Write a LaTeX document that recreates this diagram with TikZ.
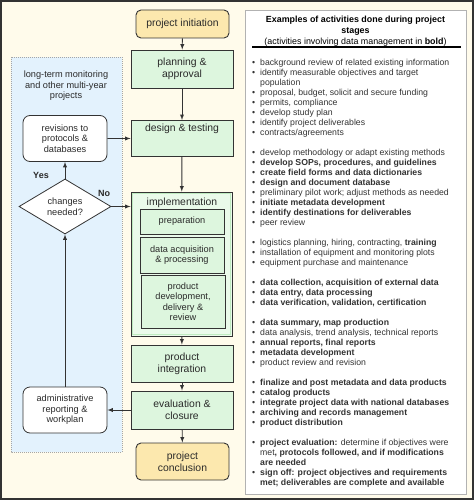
\documentclass[tikz,border=0pt]{standalone}
\usepackage{fontspec}
\setmainfont{Liberation Sans}
\usetikzlibrary{shapes.geometric}
\definecolor{bgcream}{HTML}{FFFBEB}
\definecolor{sideblue}{HTML}{E3F2FD}
\definecolor{stagegreen}{HTML}{DDF6DE}
\definecolor{implgreen}{HTML}{EAFAEA}
\definecolor{implrim}{HTML}{BFEBC0}
\definecolor{endyellow}{HTML}{FCE8AE}
\definecolor{linegray}{HTML}{333333}
\definecolor{textgray}{HTML}{2A2A2A}
\newcommand{\bul}{\strut\makebox[8pt][l]{\textbullet}}
\newcommand{\cont}{\strut\hspace*{8pt}}
\begin{document}
\begin{tikzpicture}[x=1pt,y=-1pt,
    stage/.style={draw=linegray,fill=stagegreen,line width=0.9pt,minimum width=102pt,
      align=center,inner sep=2pt,text=textgray,font=\fontsize{10.4}{12}\selectfont},
    ends/.style={stage,fill=endyellow,rounded corners=5pt,minimum width=93pt},
    sub/.style={draw=linegray,fill=stagegreen,line width=0.8pt,minimum width=84pt,
      align=center,inner sep=2pt,text=textgray,font=\fontsize{9.2}{10.5}\selectfont},
    side/.style={sub,fill=white,rounded corners=7pt,minimum height=46pt},
    small/.style={align=center,inner sep=0pt,text=textgray,font=\fontsize{9.2}{10.5}\selectfont}]
  \useasboundingbox (0,0) rectangle (474,500);
  \draw[fill=bgcream,draw=black!80,line width=2pt] (1,1) rectangle (473,499);
  \draw[fill=white,draw=gray!60,line width=0.8pt] (245,10) rectangle (466,494);
  \draw[fill=sideblue,draw=gray!70,dash pattern=on 1pt off 1pt,line width=0.6pt] (11,57) rectangle (122,452);

  \node[ends,minimum height=28pt] (init) at (182.5,24) {project initiation};
  \node[stage,minimum height=38pt] (plan) at (182,69) {planning \&\\ approval};
  \node[stage,anchor=north,text height=8pt,text depth=22pt,inner sep=3pt] (design) at (182,120) {design \& testing};
  \node[stage,fill=implgreen,minimum width=101pt,minimum height=144pt] (impl) at (181.5,264) {};
  \draw[implrim,line width=1.5pt] ([xshift=2pt,yshift=-2pt]impl.north west) rectangle ([xshift=-2pt,yshift=2pt]impl.south east);
  \node[small,font=\fontsize{10.4}{12}\selectfont] (impltxt) at (182,203) {implementation};
  \node[sub,minimum height=25pt] (prep) at (182,221.5) {preparation};
  \node[sub,minimum height=36pt] (acq) at (182,255) {data acquisition\\ \& processing};
  \node[sub,minimum height=53pt] (prod) at (183,301.5) {product\\ development,\\ delivery \&\\ review};
  \node[stage,minimum height=37pt] (integ) at (182,363.5) {product\\ integration};
  \node[stage,minimum height=38pt] (eval) at (182,410) {evaluation \&\\ closure};
  \node[ends,minimum height=37pt] (concl) at (182.5,461.5) {project\\ conclusion};

  \node[small] (longterm) at (66,86) {long-term monitoring\\ and other multi-year\\ projects};
  \node[side] (rev) at (65,138.5) {revisions to\\ protocols \&\\ databases};
  \node[sub,fill=white,diamond,aspect=1.67,minimum width=92pt,minimum height=55pt,inner sep=0pt] (chg) at (65,206.5) {changes\\ needed?};
  \node[side] (admin) at (65,410) {administrative\\ reporting \&\\ workplan};
  \node[small,font=\bfseries\fontsize{9}{10}\selectfont] (yes) at (41,175) {Yes};
  \node[small,font=\bfseries\fontsize{9}{10}\selectfont] (no) at (104,193) {No};

  \begin{scope}[-latex,draw=linegray,line width=0.9pt]
    \draw (init) -- (plan);
    \draw (plan) -- (design);
    \draw (design) -- (impl);
    \draw (impl) -- (integ);
    \draw (integ) -- (eval);
    \draw (eval) -- (concl);
    \draw (rev) -- (design);
    \draw (chg) -- (rev);
    \draw (chg.east) -- (chg.east -| impl.west);
    \draw (eval) -- (admin);
    \draw (admin) -- (chg);
  \end{scope}

  \node[align=center,inner sep=0pt,text=black,font=\fontsize{8.9}{11}\selectfont] (hdr) at (355.5,31)
    {\textbf{Examples of activities done during project}\\ \textbf{stages}\\ (activities involving data management in \textbf{bold})};
  \draw[line width=1.3pt] (252,47) -- (461,47);
  \node[anchor=north west,align=left,inner sep=0pt,text=black!80,font=\fontsize{8.7}{10}\selectfont] (acts) at (252,58.3)
    {\bul background review of related existing information\\
     \bul identify measurable objectives and target\\
     \cont population\\
     \bul proposal, budget, solicit and secure funding\\
     \bul permits, compliance\\
     \bul develop study plan\\
     \bul identify project deliverables\\
     \bul contracts/agreements\\[10pt]
     \bul develop methodology or adapt existing methods\\
     \bul \textbf{develop SOPs, procedures, and guidelines}\\
     \bul \textbf{create field forms and data dictionaries}\\
     \bul \textbf{design and document database}\\
     \bul preliminary pilot work; adjust methods as needed\\
     \bul \textbf{initiate metadata development}\\
     \bul \textbf{identify destinations for deliverables}\\
     \bul peer review\\[10pt]
     \bul logistics planning, hiring, contracting, \textbf{training}\\
     \bul installation of equipment and monitoring plots\\
     \bul equipment purchase and maintenance\\[10pt]
     \bul \textbf{data collection, acquisition of external data}\\
     \bul \textbf{data entry, data processing}\\
     \bul \textbf{data verification, validation, certification}\\[10pt]
     \bul \textbf{data summary, map production}\\
     \bul data analysis, trend analysis, technical reports\\
     \bul \textbf{annual reports, final reports}\\
     \bul \textbf{metadata development}\\
     \bul product review and revision\\[10pt]
     \bul \textbf{finalize and post metadata and data products}\\
     \bul \textbf{catalog products}\\
     \bul \textbf{integrate project data with national databases}\\
     \bul \textbf{archiving and records management}\\
     \bul \textbf{product distribution}\\[10pt]
     \bul \textbf{project evaluation:} determine if objectives were\\
     \cont met\textbf{, protocols followed, and if modifications}\\
     \cont \textbf{are needed}\\
     \bul \textbf{sign off: project objectives and requirements}\\
     \cont \textbf{met; deliverables are complete and available}};
\end{tikzpicture}
\end{document}
